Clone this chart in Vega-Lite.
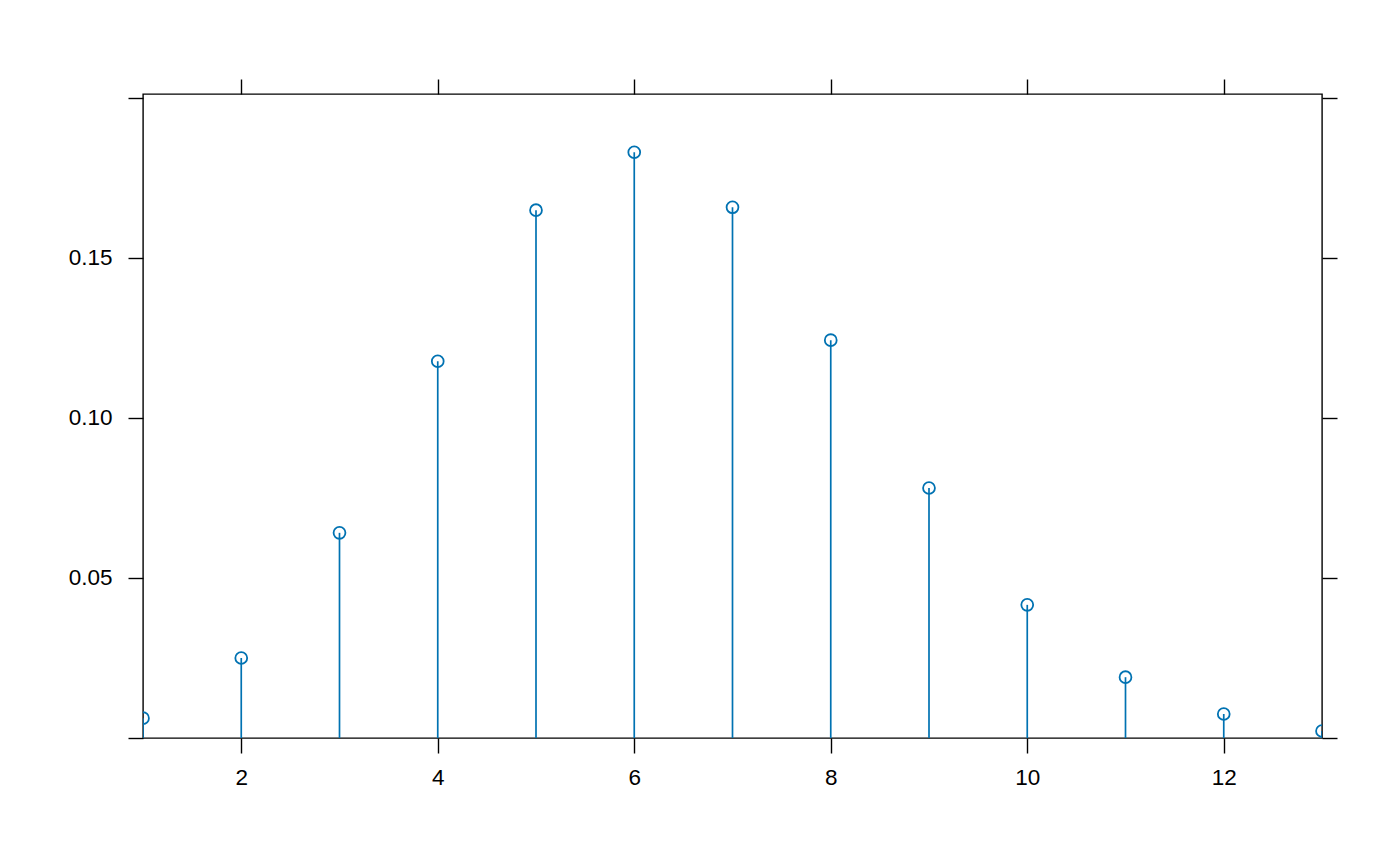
{
  "$schema": "https://vega.github.io/schema/vega-lite/v6.json",
  "autosize": {"type": "none"},
  "padding": {"left": 143, "top": 94, "right": 78, "bottom": 128},
  "width": 1179,
  "height": 644,
  "background": "white",
  "config": {
    "view": {"stroke": "black", "strokeWidth": 1.4},
    "axis": {
      "grid": false,
      "domain": false,
      "tickColor": "black",
      "tickWidth": 1.4,
      "tickSize": 15,
      "labelFont": "Liberation Sans",
      "labelFontSize": 22.5,
      "labelColor": "black",
      "title": null
    }
  },
  "data": {
    "values": [
      {"x": 1, "y": 0.0062},
      {"x": 2, "y": 0.0250},
      {"x": 3, "y": 0.0641},
      {"x": 4, "y": 0.1177},
      {"x": 5, "y": 0.1649},
      {"x": 6, "y": 0.1830},
      {"x": 7, "y": 0.1658},
      {"x": 8, "y": 0.1243},
      {"x": 9, "y": 0.0781},
      {"x": 10, "y": 0.0416},
      {"x": 11, "y": 0.0190},
      {"x": 12, "y": 0.0075},
      {"x": 13, "y": 0.0022}
    ]
  },
  "layer": [
    {
      "mark": {"type": "rule", "color": "#0072B2", "strokeWidth": 1.7, "clip": true},
      "encoding": {
        "x": {
          "field": "x", "type": "quantitative",
          "scale": {"domain": [1, 13], "nice": false, "zero": false},
          "axis": {"orient": "bottom", "values": [2, 4, 6, 8, 10, 12], "format": "d", "labelPadding": 13}
        },
        "y": {
          "field": "y", "type": "quantitative",
          "scale": {"domain": [0, 0.2012], "nice": false},
          "axis": {
            "orient": "left",
            "values": [0, 0.05, 0.1, 0.15, 0.2],
            "labelExpr": "datum.value > 0.001 && datum.value < 0.19 ? format(datum.value, '.2f') : ''",
            "labelPadding": 16
          }
        },
        "y2": {"datum": 0}
      }
    },
    {
      "mark": {"type": "point", "shape": "circle", "filled": false, "color": "#0072B2", "size": 140, "strokeWidth": 1.8, "opacity": 1, "clip": true},
      "encoding": {
        "x": {
          "field": "x", "type": "quantitative",
          "axis": {"orient": "top", "values": [2, 4, 6, 8, 10, 12], "labels": false}
        },
        "y": {
          "field": "y", "type": "quantitative",
          "axis": {"orient": "right", "values": [0, 0.05, 0.1, 0.15, 0.2], "labels": false}
        }
      }
    }
  ],
  "resolve": {"axis": {"x": "independent", "y": "independent"}}
}
